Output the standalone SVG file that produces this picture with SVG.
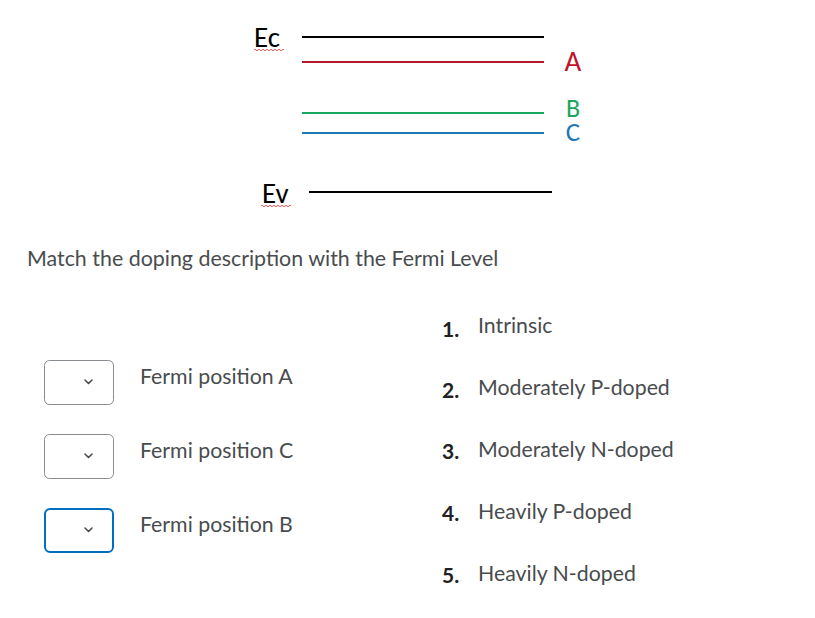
<svg xmlns="http://www.w3.org/2000/svg" width="815" height="618" viewBox="0 0 815 618">
<style>
.t{font-family:Lato,"Liberation Sans",sans-serif;fill:#494c4e;font-size:21.3px}
.n{font-family:Lato,"Liberation Sans",sans-serif;fill:#202122;font-size:21px;font-weight:bold}
.lab{font-family:Calibri,"Carlito","Liberation Sans",sans-serif;font-size:29px}
.lvl{stroke-width:2;fill:none}
.dd{fill:#fff;stroke:#868c8f;stroke-width:1;}
.chev{fill:none;stroke:#494c4e;stroke-width:1.6;stroke-linecap:round;stroke-linejoin:round}
.sq{fill:none;stroke:#e03030;stroke-width:0.8}
</style>
<rect width="815" height="618" fill="#fff"/>
<g id="band-diagram">
<g id="Ec">
<text class="lab" x="254" y="47" fill="#000">Ec</text>
<path class="sq" d="M254 50 q1 -1.5 2 0 t2 0 t2 0 t2 0 t2 0 t2 0 t2 0 t2 0 t2 0 t2 0 t2 0 t2 0 t2 0 t2 0 t2 0"/>
<line class="lvl" x1="302" y1="37" x2="544" y2="37" stroke="#000"/>
</g>
<g id="level-A">
<line class="lvl" x1="302" y1="62" x2="544" y2="62" stroke="#b4182d"/>
<text class="lab" x="573" y="71" text-anchor="middle" fill="#c0142d">A</text>
</g>
<g id="level-B">
<line class="lvl" x1="302" y1="113" x2="544" y2="113" stroke="#1aa65e"/>
<text class="lab" x="573" y="116.5" text-anchor="middle" fill="#1aa65e" style="font-size:26px">B</text>
</g>
<g id="level-C">
<line class="lvl" x1="302" y1="133" x2="544" y2="133" stroke="#1f78b4"/>
<text class="lab" x="573" y="141" text-anchor="middle" fill="#1f78b4" style="font-size:27px">C</text>
</g>
<g id="Ev">
<text class="lab" x="262" y="203" fill="#000">Ev</text>
<path class="sq" d="M261 206 q1 -1.5 2 0 t2 0 t2 0 t2 0 t2 0 t2 0 t2 0 t2 0 t2 0 t2 0 t2 0 t2 0 t2 0 t2 0 t2 0"/>
<line class="lvl" x1="309" y1="192" x2="552" y2="192" stroke="#000"/>
</g>
</g>
<text class="t" x="27" y="266" style="font-size:21.4px">Match the doping description with the Fermi Level</text>
<g id="row-A">
<rect class="dd" x="44.5" y="360.5" width="69" height="44" rx="5"/>
<path class="chev" d="M85 380 l3.5 3.5 l3.5 -3.5"/>
<text class="t" x="140" y="384">Fermi position A</text>
</g>
<g id="row-C">
<rect class="dd" x="44.5" y="434.5" width="69" height="44" rx="5"/>
<path class="chev" d="M85 454 l3.5 3.5 l3.5 -3.5"/>
<text class="t" x="140" y="458">Fermi position C</text>
</g>
<g id="row-B">
<rect class="dd" x="45" y="509" width="68" height="43" rx="5" style="stroke:#006fbf;stroke-width:2"/>
<path class="chev" d="M85 528 l3.5 3.5 l3.5 -3.5"/>
<text class="t" x="140" y="532">Fermi position B</text>
</g>
<g id="options">
<text class="n" x="442" y="337">1.</text><text class="t" x="478" y="333">Intrinsic</text>
<text class="n" x="442" y="398">2.</text><text class="t" x="478" y="395">Moderately P-doped</text>
<text class="n" x="442" y="459">3.</text><text class="t" x="478" y="457">Moderately N-doped</text>
<text class="n" x="442" y="521">4.</text><text class="t" x="478" y="519">Heavily P-doped</text>
<text class="n" x="442" y="583">5.</text><text class="t" x="478" y="581">Heavily N-doped</text>
</g>
</svg>
